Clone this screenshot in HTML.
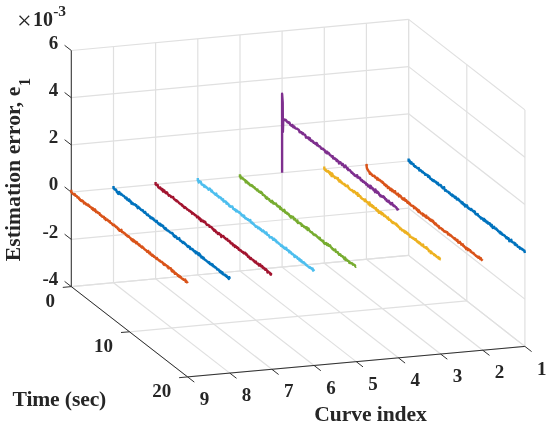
<!DOCTYPE html>
<html><head><meta charset="utf-8"><title>Estimation error plot</title>
<style>
html,body{margin:0;padding:0;background:#fff;}
svg{display:block;}
.g{stroke:#e0e0e0;stroke-width:1.2;}
.a{stroke:#262626;stroke-width:0.95;}
text{font-family:"Liberation Serif",serif;fill:#262626;}
.t{font-size:19px;font-weight:bold;}
.l{font-size:21.6px;font-weight:bold;}
.sub{font-size:16px;font-weight:bold;}
.e{font-size:20px;font-weight:bold;}
.x{font-size:26px;}
.sup{font-size:15.5px;font-weight:bold;}
</style></head><body>
<svg width="550" height="427" viewBox="0 0 550 427">
<rect width="550" height="427" fill="#fff"/>
<g><line class="g" x1="408.6" y1="255.4" x2="408.6" y2="19.4"/>
<line class="g" x1="408.6" y1="255.4" x2="524.9" y2="346.4"/>
<line class="g" x1="366.4" y1="259.3" x2="366.4" y2="23.3"/>
<line class="g" x1="366.4" y1="259.3" x2="482.7" y2="350.2"/>
<line class="g" x1="324.3" y1="263.2" x2="324.3" y2="27.2"/>
<line class="g" x1="324.3" y1="263.2" x2="440.6" y2="354.0"/>
<line class="g" x1="282.1" y1="267.1" x2="282.1" y2="31.1"/>
<line class="g" x1="282.1" y1="267.1" x2="398.4" y2="357.8"/>
<line class="g" x1="240.0" y1="271.0" x2="240.0" y2="35.0"/>
<line class="g" x1="240.0" y1="271.0" x2="356.2" y2="361.6"/>
<line class="g" x1="197.8" y1="274.9" x2="197.8" y2="38.8"/>
<line class="g" x1="197.8" y1="274.9" x2="314.1" y2="365.5"/>
<line class="g" x1="155.6" y1="278.8" x2="155.6" y2="42.7"/>
<line class="g" x1="155.6" y1="278.8" x2="271.9" y2="369.3"/>
<line class="g" x1="113.5" y1="282.7" x2="113.5" y2="46.6"/>
<line class="g" x1="113.5" y1="282.7" x2="229.8" y2="373.1"/>
<line class="g" x1="71.3" y1="286.6" x2="71.3" y2="50.5"/>
<line class="g" x1="71.3" y1="286.6" x2="187.6" y2="376.9"/>
<line class="g" x1="71.3" y1="286.6" x2="408.6" y2="255.4"/>
<line class="g" x1="408.6" y1="255.4" x2="524.9" y2="346.4"/>
<line class="g" x1="71.3" y1="239.4" x2="408.6" y2="208.2"/>
<line class="g" x1="408.6" y1="208.2" x2="524.9" y2="299.1"/>
<line class="g" x1="71.3" y1="192.2" x2="408.6" y2="161.0"/>
<line class="g" x1="408.6" y1="161.0" x2="524.9" y2="251.8"/>
<line class="g" x1="71.3" y1="144.9" x2="408.6" y2="113.8"/>
<line class="g" x1="408.6" y1="113.8" x2="524.9" y2="204.5"/>
<line class="g" x1="71.3" y1="97.7" x2="408.6" y2="66.6"/>
<line class="g" x1="408.6" y1="66.6" x2="524.9" y2="157.2"/>
<line class="g" x1="71.3" y1="50.5" x2="408.6" y2="19.4"/>
<line class="g" x1="408.6" y1="19.4" x2="524.9" y2="109.9"/>
<line class="g" x1="408.6" y1="255.4" x2="408.6" y2="19.4"/>
<line class="g" x1="71.3" y1="286.6" x2="408.6" y2="255.4"/>
<line class="g" x1="466.8" y1="300.9" x2="466.8" y2="64.7"/>
<line class="g" x1="129.4" y1="331.8" x2="466.8" y2="300.9"/>
<line class="g" x1="524.9" y1="346.4" x2="524.9" y2="109.9"/>
<line class="g" x1="187.6" y1="376.9" x2="524.9" y2="346.4"/></g>
<g><line class="a" x1="71.3" y1="286.6" x2="71.3" y2="50.5"/>
<line class="a" x1="71.3" y1="286.6" x2="187.6" y2="376.9"/>
<line class="a" x1="187.6" y1="376.9" x2="524.9" y2="346.4"/>
<line class="a" x1="71.3" y1="286.6" x2="64.6" y2="281.4"/>
<line class="a" x1="71.3" y1="239.4" x2="64.6" y2="234.2"/>
<line class="a" x1="71.3" y1="192.2" x2="64.6" y2="186.9"/>
<line class="a" x1="71.3" y1="144.9" x2="64.6" y2="139.7"/>
<line class="a" x1="71.3" y1="97.7" x2="64.6" y2="92.5"/>
<line class="a" x1="71.3" y1="50.5" x2="64.6" y2="45.3"/>
<line class="a" x1="71.3" y1="286.6" x2="62.8" y2="287.4"/>
<line class="a" x1="129.4" y1="331.8" x2="121.0" y2="332.5"/>
<line class="a" x1="187.6" y1="376.9" x2="179.1" y2="377.7"/>
<line class="a" x1="524.9" y1="346.4" x2="531.6" y2="351.6"/>
<line class="a" x1="482.7" y1="350.2" x2="489.5" y2="355.4"/>
<line class="a" x1="440.6" y1="354.0" x2="447.3" y2="359.2"/>
<line class="a" x1="398.4" y1="357.8" x2="405.1" y2="363.1"/>
<line class="a" x1="356.2" y1="361.6" x2="363.0" y2="366.9"/>
<line class="a" x1="314.1" y1="365.5" x2="320.8" y2="370.7"/>
<line class="a" x1="271.9" y1="369.3" x2="278.6" y2="374.5"/>
<line class="a" x1="229.8" y1="373.1" x2="236.5" y2="378.3"/>
<line class="a" x1="187.6" y1="376.9" x2="194.3" y2="382.1"/></g>
<g fill="none" stroke-width="2.4" stroke-linejoin="round" stroke-linecap="butt"><polyline stroke="#d95319" points="71.3,189.8 71.3,192.2 71.8,192.4 72.3,193.1 72.8,193.8 73.2,193.9 73.7,194.6 74.2,194.4 74.7,194.0 75.2,195.5 75.7,195.9 76.2,195.7 76.7,196.1 77.1,196.6 77.6,197.6 78.1,197.5 78.6,197.4 79.1,199.0 79.6,198.8 80.1,200.0 80.5,200.1 81.0,200.8 81.5,200.2 82.0,201.2 82.5,200.7 83.0,201.1 83.5,201.7 84.0,203.4 84.4,202.7 84.9,202.8 85.4,203.0 85.9,204.4 86.4,204.1 86.9,204.8 87.4,205.1 87.8,204.4 88.3,205.8 88.8,205.8 89.3,205.6 89.8,206.8 90.3,207.0 90.8,207.2 91.3,207.6 91.7,208.7 92.2,208.4 92.7,208.0 93.2,210.0 93.7,209.0 94.2,209.8 94.7,210.7 95.1,209.5 95.6,210.6 96.1,212.1 96.6,211.8 97.1,211.8 97.6,212.7 98.1,212.5 98.6,213.3 99.0,213.3 99.5,213.2 100.0,214.8 100.5,214.7 101.0,215.5 101.5,215.5 102.0,216.6 102.4,216.7 102.9,216.8 103.4,216.6 103.9,216.8 104.4,218.6 104.9,218.7 105.4,218.2 105.8,220.1 106.3,219.6 106.8,219.8 107.3,219.4 107.8,220.1 108.3,221.0 108.8,221.4 109.3,221.8 109.7,221.1 110.2,222.6 110.7,222.9 111.2,222.9 111.7,223.6 112.2,224.0 112.7,224.9 113.1,224.6 113.6,225.3 114.1,224.7 114.6,225.4 115.1,226.2 115.6,226.1 116.1,227.1 116.6,226.7 117.0,227.7 117.5,227.7 118.0,229.1 118.5,228.6 119.0,230.1 119.5,230.7 120.0,230.1 120.4,230.8 120.9,230.6 121.4,229.8 121.9,231.9 122.4,232.2 122.9,232.1 123.4,232.3 123.9,233.0 124.3,233.4 124.8,233.3 125.3,233.8 125.8,235.0 126.3,234.9 126.8,235.2 127.3,236.2 127.7,235.8 128.2,236.8 128.7,236.2 129.2,237.0 129.7,237.4 130.2,238.2 130.7,238.3 131.2,239.7 131.6,239.6 132.1,239.2 132.6,241.0 133.1,239.6 133.6,241.5 134.1,240.4 134.6,241.7 135.0,241.2 135.5,241.9 136.0,243.3 136.5,242.1 137.0,242.3 137.5,243.6 138.0,244.1 138.5,244.4 138.9,245.2 139.4,244.4 139.9,245.7 140.4,245.8 140.9,246.6 141.4,246.9 141.9,247.6 142.3,246.6 142.8,247.8 143.3,247.5 143.8,248.4 144.3,249.2 144.8,249.4 145.3,249.9 145.8,249.9 146.2,250.5 146.7,250.9 147.2,251.9 147.7,251.9 148.2,250.9 148.7,252.6 149.2,253.2 149.6,252.8 150.1,252.5 150.6,254.5 151.1,254.2 151.6,254.8 152.1,255.8 152.6,254.8 153.1,255.6 153.5,255.9 154.0,256.8 154.5,256.5 155.0,257.4 155.5,257.6 156.0,258.5 156.5,258.9 156.9,257.9 157.4,259.3 157.9,259.2 158.4,259.8 158.9,260.4 159.4,260.8 159.9,260.5 160.3,261.4 160.8,261.7 161.3,262.0 161.8,261.7 162.3,262.4 162.8,262.9 163.3,263.9 163.8,264.7 164.2,263.8 164.7,264.1 165.2,265.1 165.7,265.1 166.2,265.4 166.7,265.7 167.2,266.0 167.6,267.2 168.1,266.5 168.6,268.4 169.1,267.6 169.6,268.2 170.1,268.3 170.6,268.1 171.1,268.7 171.5,270.6 172.0,271.3 172.5,270.2 173.0,271.7 173.5,271.5 174.0,271.4 174.5,273.2 174.9,273.8 175.4,272.8 175.9,273.3 176.4,273.9 176.9,274.1 177.4,275.0 177.9,275.7 178.4,275.3 178.8,276.2 179.3,276.9 179.8,276.1 180.3,276.8 180.8,276.9 181.3,278.1 181.8,278.3 182.2,278.8 182.7,279.1 183.2,278.9 183.7,279.8 184.2,279.6 184.7,280.0 185.2,279.4 185.7,281.7 186.1,280.8 186.6,281.7 187.1,282.1 187.6,283.2"/>
<polyline stroke="#0072bd" points="113.5,185.9 113.5,188.3 113.9,188.2 114.4,189.1 114.9,189.4 115.4,189.9 115.9,189.5 116.4,190.5 116.9,192.2 117.4,191.7 117.8,192.8 118.3,193.9 118.8,192.7 119.3,192.0 119.8,193.2 120.3,194.2 120.8,194.5 121.2,193.7 121.7,194.6 122.2,195.0 122.7,195.5 123.2,195.8 123.7,195.7 124.2,196.3 124.7,196.8 125.1,197.9 125.6,197.4 126.1,198.5 126.6,197.8 127.1,199.6 127.6,199.3 128.1,199.6 128.5,200.7 129.0,199.4 129.5,199.9 130.0,201.4 130.5,201.1 131.0,201.7 131.5,203.7 132.0,202.5 132.4,203.0 132.9,203.3 133.4,204.4 133.9,204.3 134.4,204.6 134.9,204.2 135.4,205.1 135.8,205.7 136.3,205.2 136.8,206.7 137.3,207.0 137.8,208.2 138.3,206.7 138.8,207.4 139.3,207.8 139.7,208.3 140.2,209.0 140.7,209.3 141.2,210.0 141.7,210.3 142.2,210.5 142.7,210.1 143.1,211.0 143.6,211.7 144.1,212.4 144.6,212.8 145.1,211.9 145.6,212.9 146.1,213.5 146.6,214.2 147.0,215.0 147.5,214.8 148.0,214.6 148.5,215.7 149.0,216.0 149.5,216.4 150.0,216.5 150.4,217.9 150.9,217.5 151.4,218.2 151.9,217.6 152.4,218.9 152.9,218.6 153.4,218.4 153.9,219.8 154.3,220.4 154.8,220.3 155.3,220.8 155.8,221.7 156.3,221.3 156.8,220.8 157.3,222.4 157.7,222.8 158.2,223.6 158.7,223.2 159.2,224.5 159.7,224.8 160.2,223.8 160.7,225.4 161.2,224.7 161.6,224.8 162.1,225.9 162.6,226.1 163.1,225.7 163.6,227.3 164.1,227.9 164.6,228.7 165.0,228.3 165.5,227.9 166.0,228.5 166.5,230.0 167.0,230.3 167.5,230.5 168.0,230.4 168.4,231.1 168.9,231.2 169.4,231.6 169.9,232.3 170.4,232.5 170.9,232.7 171.4,233.3 171.9,233.3 172.3,232.9 172.8,234.0 173.3,234.7 173.8,236.1 174.3,235.3 174.8,237.0 175.3,237.1 175.7,236.2 176.2,236.6 176.7,237.5 177.2,238.7 177.7,238.4 178.2,238.9 178.7,238.5 179.2,238.0 179.6,239.5 180.1,240.5 180.6,241.1 181.1,240.8 181.6,241.3 182.1,242.2 182.6,241.9 183.0,243.0 183.5,242.1 184.0,242.5 184.5,242.8 185.0,244.1 185.5,243.9 186.0,244.7 186.5,245.2 186.9,245.5 187.4,246.4 187.9,246.9 188.4,246.0 188.9,247.0 189.4,247.1 189.9,247.0 190.3,249.0 190.8,248.8 191.3,248.6 191.8,248.9 192.3,249.7 192.8,249.3 193.3,250.1 193.8,251.3 194.2,251.5 194.7,250.9 195.2,251.5 195.7,253.2 196.2,251.8 196.7,252.6 197.2,252.5 197.6,253.9 198.1,254.2 198.6,255.0 199.1,253.3 199.6,255.3 200.1,254.6 200.6,256.3 201.1,256.2 201.5,257.6 202.0,257.3 202.5,256.9 203.0,258.5 203.5,257.6 204.0,258.4 204.5,259.5 204.9,259.6 205.4,260.0 205.9,260.1 206.4,260.8 206.9,261.3 207.4,261.4 207.9,262.2 208.4,262.7 208.8,262.4 209.3,262.2 209.8,264.0 210.3,263.5 210.8,264.2 211.3,264.8 211.8,264.1 212.2,265.3 212.7,264.5 213.2,266.2 213.7,265.9 214.2,266.6 214.7,267.3 215.2,266.9 215.7,267.7 216.1,267.7 216.6,268.4 217.1,269.4 217.6,269.2 218.1,269.5 218.6,269.4 219.1,270.8 219.5,270.7 220.0,272.0 220.5,271.0 221.0,272.4 221.5,273.2 222.0,272.6 222.5,272.3 222.9,274.2 223.4,274.3 223.9,274.5 224.4,275.1 224.9,274.6 225.4,275.6 225.9,276.0 226.4,275.6 226.8,276.8 227.3,276.5 227.8,277.6 228.3,278.1 228.8,278.9 229.3,277.2 229.8,278.8"/>
<polyline stroke="#a2142f" points="155.6,182.0 155.6,184.4 156.1,184.8 156.6,185.0 157.1,185.5 157.6,184.8 158.1,186.8 158.5,187.5 159.0,187.6 159.5,188.2 160.0,187.4 160.5,187.7 161.0,189.1 161.5,189.7 162.0,189.5 162.4,188.9 162.9,191.6 163.4,190.1 163.9,191.4 164.4,190.6 164.9,192.2 165.4,192.1 165.8,193.2 166.3,193.2 166.8,192.3 167.3,193.0 167.8,194.1 168.3,194.7 168.8,195.7 169.3,195.2 169.7,195.4 170.2,195.8 170.7,196.1 171.2,197.1 171.7,196.9 172.2,197.3 172.7,196.9 173.1,196.9 173.6,198.4 174.1,199.2 174.6,199.2 175.1,199.8 175.6,200.3 176.1,200.3 176.5,201.2 177.0,200.7 177.5,201.4 178.0,201.6 178.5,202.3 179.0,202.9 179.5,203.4 180.0,203.4 180.4,204.0 180.9,203.9 181.4,204.4 181.9,205.6 182.4,205.1 182.9,206.3 183.4,206.3 183.8,206.5 184.3,207.9 184.8,207.0 185.3,207.4 185.8,207.9 186.3,208.4 186.8,208.8 187.3,209.5 187.7,209.5 188.2,210.0 188.7,210.0 189.2,211.1 189.7,210.7 190.2,211.1 190.7,211.7 191.1,212.2 191.6,212.0 192.1,213.7 192.6,212.9 193.1,213.4 193.6,213.7 194.1,214.0 194.6,215.0 195.0,215.2 195.5,215.0 196.0,215.5 196.5,216.0 197.0,217.4 197.5,216.6 198.0,216.6 198.4,217.1 198.9,217.9 199.4,219.3 199.9,218.3 200.4,219.2 200.9,221.0 201.4,219.7 201.9,221.1 202.3,221.4 202.8,221.4 203.3,220.7 203.8,222.0 204.3,222.0 204.8,221.6 205.3,222.0 205.7,223.4 206.2,223.8 206.7,224.8 207.2,224.9 207.7,224.6 208.2,225.0 208.7,225.5 209.2,225.4 209.6,226.8 210.1,226.8 210.6,226.7 211.1,227.2 211.6,227.3 212.1,228.0 212.6,228.8 213.0,228.8 213.5,229.9 214.0,230.7 214.5,229.8 215.0,230.5 215.5,230.7 216.0,232.2 216.5,231.9 216.9,232.4 217.4,232.9 217.9,234.1 218.4,233.4 218.9,233.0 219.4,233.7 219.9,234.6 220.3,234.7 220.8,234.6 221.3,237.0 221.8,235.9 222.3,235.9 222.8,236.2 223.3,236.0 223.8,236.7 224.2,237.5 224.7,237.9 225.2,238.0 225.7,239.1 226.2,239.2 226.7,239.1 227.2,238.9 227.6,240.4 228.1,240.8 228.6,241.0 229.1,240.7 229.6,241.9 230.1,241.4 230.6,243.2 231.0,243.1 231.5,243.5 232.0,243.3 232.5,243.5 233.0,245.4 233.5,245.4 234.0,245.1 234.5,246.0 234.9,246.9 235.4,245.8 235.9,246.5 236.4,246.9 236.9,247.8 237.4,247.3 237.9,248.4 238.3,248.0 238.8,249.6 239.3,249.9 239.8,249.7 240.3,250.6 240.8,250.2 241.3,250.8 241.8,251.8 242.2,251.7 242.7,252.3 243.2,251.9 243.7,253.2 244.2,253.5 244.7,252.9 245.2,252.7 245.6,253.2 246.1,254.7 246.6,255.0 247.1,254.6 247.6,255.9 248.1,256.8 248.6,256.5 249.1,256.7 249.5,257.8 250.0,258.7 250.5,258.9 251.0,258.1 251.5,259.3 252.0,259.3 252.5,259.5 252.9,259.7 253.4,260.6 253.9,260.5 254.4,261.7 254.9,261.7 255.4,262.5 255.9,261.6 256.4,262.7 256.8,263.5 257.3,263.6 257.8,263.9 258.3,263.8 258.8,265.5 259.3,265.5 259.8,265.5 260.2,264.3 260.7,265.5 261.2,266.5 261.7,266.4 262.2,266.0 262.7,267.7 263.2,268.2 263.7,267.6 264.1,268.4 264.6,268.7 265.1,269.8 265.6,268.8 266.1,269.3 266.6,270.3 267.1,270.6 267.5,272.5 268.0,271.4 268.5,272.2 269.0,272.2 269.5,272.5 270.0,273.4 270.5,274.6 271.0,273.8 271.4,274.8 271.9,275.0"/>
<polyline stroke="#4dbeee" points="197.8,178.1 197.8,180.5 198.3,181.0 198.8,182.5 199.2,180.9 199.7,181.8 200.2,181.7 200.7,181.6 201.2,183.1 201.7,184.5 202.2,184.4 202.7,184.9 203.1,184.9 203.6,185.0 204.1,186.5 204.6,185.6 205.1,187.0 205.6,186.4 206.1,187.0 206.5,187.5 207.0,187.7 207.5,188.4 208.0,188.8 208.5,189.8 209.0,189.2 209.5,188.5 210.0,188.8 210.4,189.6 210.9,190.3 211.4,191.5 211.9,190.6 212.4,191.9 212.9,192.2 213.4,192.8 213.8,192.9 214.3,193.6 214.8,193.8 215.3,194.7 215.8,194.7 216.3,193.6 216.8,195.3 217.3,195.8 217.7,195.7 218.2,196.0 218.7,197.4 219.2,197.2 219.7,197.0 220.2,197.7 220.7,198.2 221.1,197.8 221.6,199.4 222.1,199.4 222.6,200.1 223.1,199.3 223.6,201.6 224.1,201.3 224.6,201.6 225.0,201.3 225.5,201.7 226.0,201.6 226.5,203.7 227.0,202.8 227.5,203.7 228.0,204.3 228.4,204.0 228.9,205.2 229.4,206.3 229.9,205.7 230.4,206.7 230.9,206.6 231.4,206.4 231.9,206.8 232.3,206.4 232.8,207.8 233.3,209.0 233.8,208.9 234.3,209.4 234.8,209.9 235.3,209.4 235.7,210.4 236.2,211.5 236.7,210.4 237.2,211.2 237.7,211.3 238.2,211.8 238.7,211.9 239.1,212.6 239.6,212.3 240.1,213.2 240.6,213.6 241.1,213.9 241.6,215.4 242.1,215.0 242.6,215.4 243.0,215.6 243.5,216.8 244.0,215.5 244.5,216.8 245.0,217.9 245.5,218.5 246.0,218.1 246.4,218.4 246.9,219.1 247.4,219.0 247.9,219.8 248.4,219.5 248.9,220.6 249.4,220.6 249.9,220.4 250.3,219.9 250.8,222.3 251.3,222.4 251.8,223.0 252.3,222.4 252.8,223.9 253.3,223.9 253.7,224.0 254.2,224.9 254.7,225.3 255.2,225.4 255.7,226.7 256.2,226.7 256.7,226.5 257.2,226.6 257.6,227.1 258.1,228.4 258.6,228.1 259.1,227.7 259.6,228.2 260.1,229.0 260.6,229.8 261.0,229.3 261.5,230.4 262.0,231.1 262.5,231.3 263.0,230.4 263.5,231.4 264.0,231.3 264.5,232.6 264.9,232.2 265.4,233.4 265.9,233.6 266.4,232.4 266.9,233.8 267.4,234.9 267.9,235.0 268.3,235.2 268.8,235.1 269.3,236.4 269.8,237.5 270.3,237.0 270.8,237.2 271.3,237.6 271.8,237.3 272.2,238.2 272.7,238.3 273.2,239.8 273.7,239.0 274.2,238.7 274.7,239.8 275.2,240.5 275.6,240.9 276.1,240.4 276.6,242.3 277.1,242.2 277.6,242.3 278.1,242.5 278.6,243.6 279.1,243.5 279.5,244.2 280.0,244.4 280.5,244.9 281.0,245.8 281.5,245.6 282.0,245.5 282.5,246.9 282.9,246.8 283.4,246.7 283.9,248.1 284.4,247.7 284.9,248.8 285.4,248.0 285.9,247.7 286.4,248.2 286.8,249.9 287.3,249.7 287.8,250.4 288.3,250.8 288.8,250.4 289.3,252.4 289.8,251.4 290.2,252.4 290.7,252.0 291.2,253.0 291.7,253.9 292.2,253.7 292.7,253.9 293.2,254.6 293.6,254.8 294.1,255.7 294.6,257.0 295.1,255.7 295.6,256.2 296.1,256.8 296.6,257.3 297.1,257.1 297.5,258.3 298.0,258.8 298.5,258.9 299.0,258.5 299.5,260.4 300.0,259.3 300.5,260.7 300.9,261.3 301.4,260.4 301.9,261.5 302.4,262.6 302.9,262.4 303.4,262.1 303.9,262.3 304.4,263.6 304.8,263.5 305.3,263.7 305.8,264.9 306.3,264.7 306.8,265.3 307.3,265.9 307.8,266.3 308.2,266.4 308.7,266.8 309.2,267.5 309.7,267.8 310.2,267.3 310.7,268.2 311.2,268.2 311.7,268.4 312.1,269.1 312.6,268.5 313.1,270.6 313.6,270.1 314.1,271.1"/>
<polyline stroke="#77ac30" points="240.0,174.2 239.9,176.6 240.4,176.0 240.9,178.4 241.4,178.3 241.9,177.7 242.4,178.0 242.9,178.4 243.4,179.3 243.8,179.4 244.3,179.6 244.8,180.4 245.3,180.2 245.8,182.4 246.3,181.1 246.8,182.5 247.2,181.7 247.7,182.8 248.2,183.5 248.7,183.2 249.2,184.3 249.7,184.7 250.2,185.4 250.7,184.9 251.1,185.0 251.6,185.1 252.1,186.1 252.6,185.8 253.1,186.8 253.6,187.2 254.1,187.2 254.5,187.3 255.0,188.5 255.5,188.8 256.0,189.2 256.5,189.4 257.0,190.3 257.5,189.6 258.0,190.8 258.4,190.7 258.9,191.8 259.4,191.5 259.9,191.9 260.4,192.7 260.9,191.7 261.4,193.0 261.8,192.6 262.3,193.5 262.8,194.8 263.3,195.0 263.8,194.9 264.3,195.5 264.8,195.9 265.3,196.4 265.7,197.7 266.2,197.2 266.7,198.7 267.2,197.6 267.7,198.6 268.2,199.0 268.7,199.1 269.1,199.2 269.6,200.5 270.1,201.1 270.6,201.0 271.1,202.0 271.6,201.7 272.1,200.7 272.6,202.6 273.0,202.0 273.5,203.5 274.0,202.9 274.5,203.7 275.0,203.9 275.5,203.9 276.0,203.6 276.4,204.9 276.9,205.3 277.4,206.3 277.9,205.8 278.4,206.6 278.9,206.4 279.4,207.3 279.9,206.7 280.3,209.1 280.8,208.6 281.3,208.3 281.8,209.4 282.3,210.0 282.8,210.1 283.3,211.1 283.7,210.6 284.2,209.7 284.7,210.8 285.2,212.4 285.7,212.7 286.2,212.8 286.7,212.4 287.2,213.8 287.6,214.1 288.1,213.6 288.6,214.0 289.1,215.0 289.6,215.8 290.1,216.5 290.6,216.4 291.0,217.6 291.5,216.3 292.0,217.5 292.5,217.2 293.0,216.8 293.5,217.6 294.0,219.3 294.5,218.5 294.9,218.7 295.4,220.2 295.9,220.7 296.4,220.6 296.9,221.8 297.4,220.4 297.9,223.0 298.3,222.7 298.8,222.6 299.3,222.9 299.8,223.1 300.3,223.4 300.8,224.0 301.3,223.7 301.7,225.9 302.2,225.1 302.7,225.8 303.2,225.7 303.7,226.1 304.2,227.1 304.7,227.3 305.2,226.9 305.6,227.5 306.1,228.5 306.6,227.3 307.1,227.5 307.6,230.1 308.1,229.4 308.6,228.6 309.0,229.9 309.5,230.6 310.0,231.2 310.5,231.8 311.0,232.0 311.5,232.6 312.0,232.2 312.5,233.2 312.9,233.6 313.4,234.5 313.9,234.2 314.4,235.0 314.9,235.0 315.4,234.7 315.9,235.5 316.3,235.8 316.8,236.2 317.3,236.8 317.8,237.3 318.3,237.7 318.8,237.5 319.3,238.9 319.8,237.9 320.2,239.1 320.7,239.9 321.2,240.1 321.7,240.6 322.2,240.5 322.7,241.4 323.2,240.7 323.6,242.2 324.1,243.4 324.6,242.9 325.1,244.0 325.6,243.3 326.1,243.0 326.6,243.6 327.1,245.1 327.5,245.2 328.0,244.1 328.5,245.3 329.0,245.9 329.5,245.7 330.0,245.3 330.5,246.3 330.9,247.3 331.4,247.6 331.9,247.8 332.4,248.9 332.9,249.5 333.4,249.3 333.9,250.2 334.4,250.1 334.8,250.4 335.3,249.5 335.8,251.7 336.3,251.6 336.8,252.1 337.3,252.1 337.8,252.1 338.2,253.4 338.7,253.9 339.2,254.8 339.7,254.8 340.2,254.3 340.7,255.0 341.2,255.9 341.7,256.0 342.1,256.1 342.6,256.2 343.1,257.2 343.6,257.4 344.1,258.7 344.6,258.7 345.1,257.5 345.5,260.0 346.0,259.3 346.5,259.4 347.0,260.1 347.5,260.8 348.0,260.7 348.5,261.1 349.0,261.5 349.4,262.9 349.9,262.3 350.4,263.0 350.9,263.3 351.4,263.2 351.9,263.3 352.4,263.6 352.8,264.7 353.3,264.3 353.8,264.6 354.3,265.0 354.8,265.2 355.3,266.4 355.8,266.8 356.2,266.6"/>
<polyline stroke="#7e2f8e" points="282.1,172.7 282.1,93.8 282.7,102.3 282.9,132.0 283.3,118.6 282.1,117.7 282.6,117.9 283.1,118.7 283.6,119.0 284.1,120.2 284.5,120.1 285.0,120.0 285.5,119.8 286.0,120.2 286.5,121.1 287.0,121.6 287.5,122.3 288.0,122.0 288.4,122.8 288.9,122.6 289.4,122.4 289.9,123.8 290.4,125.0 290.9,125.0 291.4,125.7 291.8,125.9 292.3,124.9 292.8,125.9 293.3,127.3 293.8,126.4 294.3,126.4 294.8,127.7 295.3,128.3 295.7,128.5 296.2,128.5 296.7,128.7 297.2,128.8 297.7,129.1 298.2,129.5 298.7,129.8 299.1,130.6 299.6,132.2 300.1,131.8 300.6,131.9 301.1,132.7 301.6,132.3 302.1,133.4 302.6,134.1 303.0,133.2 303.5,134.0 304.0,134.6 304.5,134.6 305.0,134.9 305.5,135.7 306.0,137.6 306.4,137.0 306.9,137.3 307.4,137.9 307.9,137.6 308.4,137.5 308.9,138.8 309.4,139.5 309.8,138.1 310.3,139.9 310.8,140.7 311.3,140.3 311.8,140.5 312.3,141.6 312.8,141.1 313.3,142.2 313.7,142.8 314.2,142.6 314.7,142.6 315.2,143.8 315.7,143.6 316.2,144.3 316.7,143.0 317.1,145.4 317.6,144.6 318.1,145.7 318.6,146.2 319.1,146.1 319.6,146.3 320.1,146.5 320.6,147.4 321.0,148.3 321.5,148.7 322.0,148.5 322.5,148.8 323.0,148.7 323.5,149.6 324.0,149.7 324.4,149.8 324.9,150.9 325.4,152.2 325.9,152.4 326.4,153.0 326.9,151.6 327.4,153.4 327.9,152.6 328.3,153.3 328.8,153.1 329.3,153.9 329.8,154.9 330.3,155.3 330.8,155.5 331.3,155.8 331.7,156.6 332.2,156.7 332.7,156.2 333.2,158.4 333.7,157.7 334.2,158.7 334.7,158.5 335.2,158.5 335.6,159.4 336.1,159.3 336.6,161.0 337.1,159.9 337.6,161.2 338.1,160.9 338.6,161.5 339.0,163.5 339.5,162.8 340.0,162.6 340.5,162.3 341.0,163.4 341.5,163.8 342.0,165.1 342.5,163.9 342.9,164.1 343.4,165.5 343.9,166.0 344.4,167.2 344.9,166.1 345.4,165.5 345.9,167.0 346.3,167.1 346.8,167.9 347.3,169.1 347.8,168.2 348.3,170.1 348.8,169.9 349.3,170.0 349.8,170.0 350.2,170.7 350.7,171.1 351.2,172.1 351.7,172.8 352.2,172.4 352.7,173.3 353.2,174.0 353.6,174.4 354.1,174.3 354.6,175.5 355.1,175.6 355.6,176.1 356.1,175.5 356.6,175.7 357.1,175.2 357.5,177.6 358.0,177.5 358.5,177.0 359.0,178.0 359.5,178.5 360.0,177.7 360.5,179.3 360.9,180.1 361.4,180.6 361.9,180.0 362.4,180.5 362.9,181.8 363.4,182.0 363.9,181.5 364.3,181.9 364.8,182.9 365.3,182.6 365.8,183.0 366.3,184.7 366.8,184.3 367.3,184.3 367.8,185.2 368.2,186.5 368.7,185.8 369.2,185.6 369.7,185.6 370.2,188.1 370.7,185.8 371.2,188.3 371.6,187.5 372.1,187.7 372.6,188.2 373.1,189.1 373.6,190.2 374.1,189.6 374.6,190.7 375.1,192.2 375.5,189.5 376.0,191.1 376.5,190.9 377.0,192.8 377.5,191.8 378.0,192.2 378.5,192.6 378.9,193.9 379.4,194.9 379.9,194.7 380.4,196.3 380.9,196.4 381.4,195.7 381.9,196.7 382.4,196.7 382.8,197.0 383.3,196.2 383.8,197.0 384.3,198.1 384.8,197.8 385.3,199.3 385.8,199.5 386.2,199.2 386.7,200.8 387.2,200.6 387.7,201.6 388.2,201.2 388.7,200.7 389.2,202.4 389.7,202.3 390.1,203.3 390.6,203.8 391.1,204.3 391.6,203.1 392.1,203.0 392.6,204.4 393.1,205.5 393.5,205.1 394.0,206.1 394.5,205.8 395.0,206.5 395.5,206.9 396.0,207.1 396.5,208.2 397.0,208.4 397.4,209.6 397.9,209.2 398.4,210.2"/>
<polyline stroke="#edb120" points="324.3,166.4 324.3,168.8 324.8,169.7 325.2,169.5 325.7,169.7 326.2,171.1 326.7,171.1 327.2,171.6 327.7,171.0 328.2,170.9 328.7,171.7 329.1,172.8 329.6,172.1 330.1,174.2 330.6,172.9 331.1,174.5 331.6,176.1 332.1,173.4 332.5,174.3 333.0,176.2 333.5,175.9 334.0,176.5 334.5,176.7 335.0,178.0 335.5,177.9 336.0,177.6 336.4,178.1 336.9,178.0 337.4,179.0 337.9,178.1 338.4,180.2 338.9,180.0 339.4,181.6 339.8,181.6 340.3,180.6 340.8,182.2 341.3,181.8 341.8,182.5 342.3,183.4 342.8,183.4 343.3,183.9 343.7,184.2 344.2,183.9 344.7,184.4 345.2,185.4 345.7,186.0 346.2,185.7 346.7,186.3 347.1,186.0 347.6,185.5 348.1,186.9 348.6,187.8 349.1,188.2 349.6,189.0 350.1,189.4 350.6,189.8 351.0,189.9 351.5,190.3 352.0,190.0 352.5,191.0 353.0,191.3 353.5,192.2 354.0,191.0 354.4,192.0 354.9,191.7 355.4,192.6 355.9,192.6 356.4,194.0 356.9,193.8 357.4,193.1 357.9,195.7 358.3,194.7 358.8,194.8 359.3,195.9 359.8,196.0 360.3,196.1 360.8,197.6 361.3,197.4 361.7,198.5 362.2,198.8 362.7,199.1 363.2,199.2 363.7,199.4 364.2,199.6 364.7,201.1 365.2,199.5 365.6,200.4 366.1,201.0 366.6,202.0 367.1,202.2 367.6,202.2 368.1,202.7 368.6,204.3 369.0,203.3 369.5,202.4 370.0,205.5 370.5,204.3 371.0,205.0 371.5,205.7 372.0,205.2 372.4,207.0 372.9,206.6 373.4,206.3 373.9,207.6 374.4,208.1 374.9,208.2 375.4,208.9 375.9,208.1 376.3,209.9 376.8,209.3 377.3,210.9 377.8,210.1 378.3,211.0 378.8,212.8 379.3,211.7 379.7,212.7 380.2,212.7 380.7,211.9 381.2,213.8 381.7,214.2 382.2,213.1 382.7,214.2 383.2,213.8 383.6,214.9 384.1,216.0 384.6,215.9 385.1,215.5 385.6,216.0 386.1,217.0 386.6,217.3 387.0,217.8 387.5,218.4 388.0,217.4 388.5,218.9 389.0,219.9 389.5,219.9 390.0,219.6 390.5,220.0 390.9,220.8 391.4,221.5 391.9,221.5 392.4,222.9 392.9,223.0 393.4,222.2 393.9,223.3 394.3,223.2 394.8,223.1 395.3,223.8 395.8,224.5 396.3,223.7 396.8,224.9 397.3,225.9 397.8,225.6 398.2,226.2 398.7,227.3 399.2,227.2 399.7,227.7 400.2,229.1 400.7,228.4 401.2,228.9 401.6,229.4 402.1,230.4 402.6,230.1 403.1,230.3 403.6,230.6 404.1,231.7 404.6,231.0 405.1,232.5 405.5,232.3 406.0,231.8 406.5,233.3 407.0,233.6 407.5,233.0 408.0,234.3 408.5,234.6 408.9,234.7 409.4,234.6 409.9,236.8 410.4,236.4 410.9,236.9 411.4,237.3 411.9,237.6 412.4,237.9 412.8,237.7 413.3,238.7 413.8,238.5 414.3,238.7 414.8,239.8 415.3,239.7 415.8,239.2 416.2,240.3 416.7,241.2 417.2,241.3 417.7,242.2 418.2,241.8 418.7,241.9 419.2,243.2 419.7,243.3 420.1,242.9 420.6,244.2 421.1,244.2 421.6,245.3 422.1,245.5 422.6,245.7 423.1,244.6 423.5,246.4 424.0,246.9 424.5,247.3 425.0,247.4 425.5,247.3 426.0,248.0 426.5,247.3 426.9,248.7 427.4,248.4 427.9,249.4 428.4,249.6 428.9,251.2 429.4,250.8 429.9,251.1 430.4,251.6 430.8,253.1 431.3,251.7 431.8,252.8 432.3,253.3 432.8,253.5 433.3,253.9 433.8,253.9 434.2,255.2 434.7,255.4 435.2,255.1 435.7,255.6 436.2,256.3 436.7,256.7 437.2,257.3 437.7,257.2 438.1,256.9 438.6,258.5 439.1,257.5 439.6,258.2 440.1,259.3 440.6,259.0"/>
<polyline stroke="#d95319" points="366.4,164.2 366.8,165.2 366.4,164.9 366.9,168.0 367.4,169.3 367.9,170.0 368.4,170.8 368.9,171.6 369.4,171.9 369.8,173.7 370.3,172.7 370.8,174.2 371.3,174.2 371.8,174.4 372.3,175.3 372.8,175.8 373.3,176.0 373.7,175.8 374.2,175.8 374.7,176.2 375.2,177.5 375.7,177.7 376.2,178.2 376.7,177.8 377.1,179.6 377.6,178.1 378.1,179.5 378.6,180.0 379.1,179.8 379.6,179.8 380.1,180.5 380.5,180.5 381.0,181.4 381.5,181.2 382.0,181.5 382.5,182.7 383.0,182.2 383.5,183.3 384.0,183.7 384.4,184.7 384.9,184.7 385.4,184.5 385.9,186.0 386.4,185.3 386.9,185.8 387.4,186.3 387.8,188.0 388.3,187.2 388.8,187.2 389.3,188.4 389.8,188.3 390.3,190.0 390.8,188.7 391.3,189.8 391.7,189.3 392.2,191.3 392.7,190.2 393.2,191.1 393.7,190.9 394.2,192.3 394.7,192.5 395.1,191.2 395.6,193.3 396.1,193.6 396.6,193.8 397.1,194.6 397.6,193.7 398.1,193.8 398.6,195.5 399.0,196.5 399.5,195.2 400.0,195.7 400.5,196.2 401.0,196.4 401.5,197.9 402.0,197.9 402.4,199.0 402.9,199.4 403.4,198.4 403.9,199.7 404.4,198.4 404.9,200.0 405.4,200.8 405.9,200.4 406.3,200.2 406.8,201.3 407.3,202.7 407.8,202.1 408.3,202.0 408.8,203.4 409.3,203.9 409.7,203.3 410.2,204.2 410.7,205.3 411.2,205.2 411.7,205.8 412.2,205.6 412.7,206.1 413.2,205.9 413.6,206.5 414.1,208.2 414.6,207.4 415.1,207.5 415.6,208.2 416.1,208.2 416.6,209.5 417.0,210.1 417.5,209.4 418.0,210.9 418.5,211.9 419.0,210.5 419.5,211.9 420.0,212.0 420.5,213.0 420.9,213.4 421.4,213.6 421.9,213.6 422.4,213.5 422.9,215.4 423.4,214.1 423.9,215.6 424.3,215.9 424.8,215.3 425.3,216.1 425.8,217.3 426.3,215.7 426.8,217.7 427.3,217.4 427.8,217.8 428.2,217.5 428.7,218.9 429.2,218.5 429.7,219.9 430.2,219.2 430.7,220.6 431.2,220.8 431.6,219.9 432.1,221.2 432.6,221.7 433.1,220.8 433.6,222.3 434.1,223.3 434.6,222.8 435.0,224.3 435.5,223.4 436.0,223.7 436.5,225.1 437.0,225.5 437.5,225.4 438.0,225.9 438.5,226.8 438.9,226.3 439.4,228.2 439.9,227.7 440.4,228.0 440.9,228.3 441.4,228.4 441.9,229.6 442.3,229.0 442.8,229.8 443.3,230.4 443.8,231.2 444.3,231.5 444.8,231.0 445.3,232.1 445.8,231.9 446.2,231.8 446.7,232.1 447.2,232.2 447.7,233.7 448.2,234.5 448.7,233.7 449.2,234.5 449.6,234.4 450.1,235.4 450.6,235.1 451.1,235.7 451.6,236.1 452.1,236.6 452.6,237.1 453.1,237.5 453.5,237.9 454.0,237.9 454.5,239.1 455.0,238.2 455.5,239.6 456.0,239.4 456.5,240.4 456.9,240.8 457.4,239.9 457.9,241.6 458.4,242.6 458.9,242.6 459.4,242.8 459.9,241.8 460.4,243.2 460.8,243.2 461.3,244.7 461.8,244.3 462.3,244.5 462.8,244.2 463.3,246.0 463.8,245.7 464.2,246.2 464.7,247.4 465.2,247.2 465.7,247.7 466.2,249.2 466.7,248.0 467.2,248.4 467.7,249.3 468.1,250.2 468.6,249.0 469.1,250.0 469.6,250.0 470.1,250.2 470.6,251.6 471.1,251.3 471.5,252.2 472.0,252.5 472.5,252.9 473.0,253.2 473.5,253.0 474.0,253.9 474.5,254.5 475.0,254.9 475.4,254.9 475.9,256.0 476.4,256.2 476.9,256.3 477.4,257.0 477.9,257.1 478.4,257.8 478.8,256.7 479.3,257.4 479.8,258.3 480.3,259.0 480.8,258.1 481.3,259.5 481.8,260.1 482.3,260.3 482.7,260.7"/>
<polyline stroke="#0072bd" points="408.6,158.6 408.6,161.0 409.1,161.4 409.6,160.6 410.1,162.6 410.5,162.1 411.0,163.5 411.5,162.3 412.0,163.8 412.5,164.1 413.0,163.9 413.5,164.1 414.0,165.8 414.4,165.8 414.9,166.7 415.4,166.2 415.9,166.8 416.4,167.3 416.9,167.8 417.4,168.1 417.8,168.6 418.3,168.3 418.8,168.1 419.3,170.5 419.8,169.8 420.3,170.4 420.8,170.2 421.3,171.4 421.7,171.3 422.2,172.2 422.7,171.6 423.2,172.3 423.7,172.9 424.2,172.9 424.7,173.7 425.1,174.8 425.6,174.0 426.1,174.5 426.6,175.1 427.1,174.9 427.6,175.1 428.1,176.8 428.6,177.0 429.0,176.1 429.5,176.5 430.0,178.1 430.5,178.8 431.0,178.8 431.5,179.1 432.0,180.1 432.4,179.6 432.9,180.7 433.4,181.1 433.9,180.2 434.4,181.5 434.9,181.6 435.4,181.5 435.9,181.8 436.3,182.8 436.8,183.0 437.3,183.9 437.8,182.8 438.3,183.8 438.8,185.2 439.3,184.9 439.7,184.9 440.2,185.4 440.7,185.0 441.2,185.7 441.7,187.1 442.2,187.3 442.7,188.3 443.1,187.8 443.6,188.3 444.1,187.2 444.6,189.1 445.1,190.7 445.6,190.3 446.1,190.2 446.6,191.3 447.0,191.5 447.5,191.6 448.0,191.6 448.5,192.2 449.0,193.0 449.5,192.5 450.0,193.6 450.4,194.0 450.9,194.8 451.4,194.9 451.9,194.4 452.4,196.1 452.9,195.6 453.4,195.5 453.9,196.5 454.3,196.6 454.8,197.7 455.3,196.7 455.8,197.2 456.3,198.1 456.8,199.6 457.3,199.6 457.7,198.8 458.2,198.8 458.7,200.0 459.2,199.8 459.7,201.2 460.2,201.4 460.7,201.7 461.2,201.8 461.6,203.3 462.1,202.3 462.6,202.4 463.1,204.2 463.6,204.7 464.1,204.1 464.6,205.1 465.0,206.4 465.5,205.0 466.0,205.7 466.5,206.5 467.0,205.4 467.5,206.9 468.0,207.8 468.5,207.7 468.9,208.7 469.4,208.9 469.9,208.7 470.4,209.6 470.9,209.9 471.4,209.1 471.9,209.9 472.3,210.3 472.8,210.8 473.3,211.3 473.8,211.1 474.3,212.3 474.8,211.6 475.3,213.6 475.8,213.6 476.2,214.6 476.7,214.4 477.2,214.3 477.7,214.1 478.2,215.7 478.7,215.7 479.2,216.3 479.6,216.9 480.1,217.5 480.6,217.2 481.1,218.6 481.6,217.9 482.1,218.4 482.6,219.1 483.1,219.7 483.5,220.3 484.0,218.8 484.5,221.0 485.0,219.8 485.5,220.7 486.0,221.6 486.5,222.4 486.9,221.6 487.4,221.6 487.9,223.5 488.4,223.5 488.9,223.1 489.4,223.9 489.9,223.3 490.4,225.1 490.8,224.9 491.3,226.3 491.8,224.8 492.3,226.8 492.8,228.0 493.3,227.2 493.8,227.6 494.2,226.8 494.7,228.4 495.2,228.6 495.7,228.7 496.2,228.5 496.7,229.8 497.2,229.6 497.6,230.2 498.1,231.1 498.6,231.2 499.1,231.6 499.6,232.6 500.1,231.7 500.6,233.6 501.1,232.5 501.5,233.0 502.0,234.0 502.5,234.8 503.0,234.8 503.5,234.8 504.0,235.0 504.5,235.7 504.9,235.7 505.4,236.9 505.9,236.9 506.4,238.3 506.9,237.3 507.4,238.0 507.9,238.7 508.4,238.2 508.8,238.9 509.3,241.2 509.8,240.0 510.3,241.2 510.8,240.2 511.3,239.7 511.8,241.8 512.2,241.9 512.7,242.4 513.2,242.5 513.7,242.7 514.2,242.7 514.7,244.4 515.2,243.3 515.7,245.1 516.1,244.8 516.6,244.7 517.1,245.3 517.6,246.6 518.1,246.9 518.6,247.1 519.1,247.3 519.5,247.0 520.0,248.7 520.5,248.1 521.0,248.4 521.5,248.8 522.0,249.3 522.5,249.0 523.0,250.0 523.4,250.2 523.9,250.7 524.4,250.4 524.9,252.9"/></g>
<text class="t" x="58.3" y="284.7" text-anchor="end">-4</text>
<text class="t" x="58.3" y="237.5" text-anchor="end">-2</text>
<text class="t" x="58.3" y="190.2" text-anchor="end">0</text>
<text class="t" x="58.3" y="143.0" text-anchor="end">2</text>
<text class="t" x="58.3" y="95.8" text-anchor="end">4</text>
<text class="t" x="58.3" y="48.6" text-anchor="end">6</text>
<text class="t" x="54.9" y="306.6" text-anchor="end">0</text>
<text class="t" x="113.1" y="351.7" text-anchor="end">10</text>
<text class="t" x="171.2" y="396.9" text-anchor="end">20</text>
<text class="t" x="541.7" y="374.5" text-anchor="middle">1</text>
<text class="t" x="499.6" y="378.3" text-anchor="middle">2</text>
<text class="t" x="457.4" y="382.1" text-anchor="middle">3</text>
<text class="t" x="415.2" y="386.0" text-anchor="middle">4</text>
<text class="t" x="373.1" y="389.8" text-anchor="middle">5</text>
<text class="t" x="330.9" y="393.6" text-anchor="middle">6</text>
<text class="t" x="288.7" y="397.4" text-anchor="middle">7</text>
<text class="t" x="246.6" y="401.2" text-anchor="middle">8</text>
<text class="t" x="204.4" y="405.0" text-anchor="middle">9</text>
<text class="l" x="12.5" y="406" textLength="93.8" lengthAdjust="spacing">Time (sec)</text>
<text class="l" x="314.2" y="420.5" textLength="112.6" lengthAdjust="spacing">Curve index</text>
<text class="l" transform="translate(20.1,261.3) rotate(-90)" textLength="174.6" lengthAdjust="spacing">Estimation error, e</text>
<text class="sub" transform="translate(30.0,86.0) rotate(-90)">1</text>
<text class="x" x="16.9" y="29.3">×</text>
<text class="e" x="32.9" y="25.6">10</text>
<text class="sup" x="53.2" y="15.9">-3</text>
</svg>
</body></html>
